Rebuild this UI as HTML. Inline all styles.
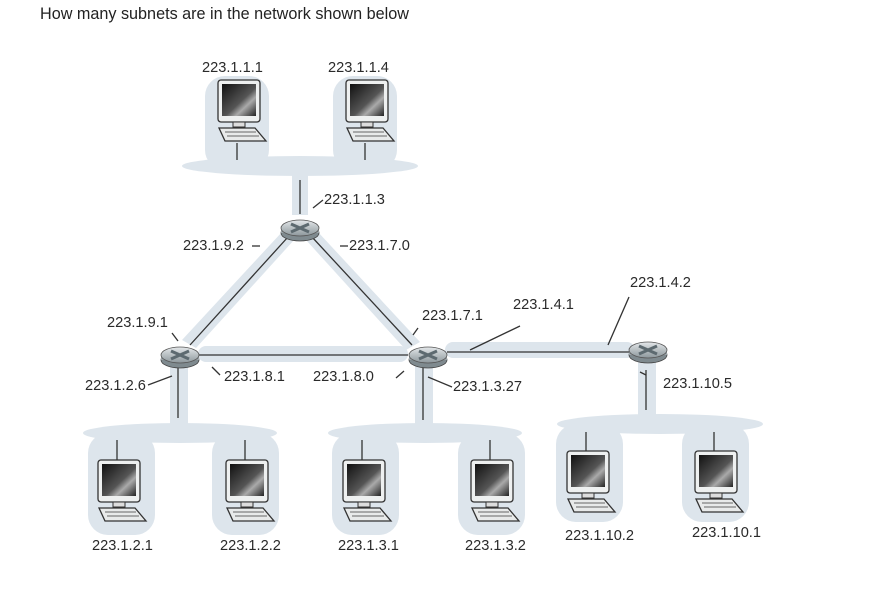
<!DOCTYPE html>
<html><head><style>
body{margin:0;background:#fff;width:887px;height:596px;overflow:hidden}
svg{position:absolute;left:0;top:0}
text{font-family:"Liberation Sans",sans-serif;font-size:14.6px;fill:#2a2a2a}
</style></head><body>
<svg width="887" height="596" viewBox="0 0 887 596">
<defs>
<linearGradient id="scr" x1="0" y1="0" x2="1" y2="1">
<stop offset="0" stop-color="#111"/><stop offset="0.55" stop-color="#555"/><stop offset="0.7" stop-color="#aaa"/><stop offset="1" stop-color="#222"/></linearGradient>
<linearGradient id="rt" x1="0" y1="0" x2="0" y2="1"><stop offset="0" stop-color="#e4e8ea"/><stop offset="1" stop-color="#8d979c"/></linearGradient>
<g id="pc">
<rect x="-21" y="0" width="42" height="42" rx="3" fill="#eef0f0" stroke="#333" stroke-width="1.3"/>
<rect x="-17" y="4" width="34" height="32" fill="url(#scr)"/>
<rect x="-6" y="42" width="12" height="5" fill="#ddd" stroke="#333"/>
<path d="M-20 48 L16 48 L27 61 L-14 61 Z" fill="#e8eaea" stroke="#333" stroke-width="1.3"/>
<path d="M-14 52 L17 52 M-12 56 L20 56" stroke="#666"/>
</g>
<g id="router">
<ellipse cx="0" cy="5" rx="19" ry="8" fill="#7f8a8f" stroke="#444" stroke-width="0.8"/>
<rect x="-19" y="0" width="38" height="5" fill="#9aa3a8"/>
<ellipse cx="0" cy="0" rx="19" ry="8" fill="url(#rt)" stroke="#555" stroke-width="0.8"/>
<path d="M-9 -4 L9 4 M-9 4 L9 -4" stroke="#5d6a70" stroke-width="3"/>
</g>
</defs>
<g fill="#dde5ec" stroke="none">
<ellipse cx="300" cy="166" rx="118" ry="10"/>
<rect x="205" y="76" width="64" height="94" rx="20"/>
<rect x="333" y="76" width="64" height="94" rx="20"/>
<rect x="292" y="170" width="16" height="45"/>
<path d="M282 232 L294 240 L196 348 L182 340 Z"/>
<path d="M306 240 L318 232 L420 342 L406 350 Z"/>
<rect x="198" y="346" width="210" height="16" rx="8"/>
<rect x="445" y="342" width="190" height="16" rx="8"/>
<ellipse cx="180" cy="433" rx="97" ry="10"/>
<rect x="170" y="365" width="18" height="70"/>
<rect x="88" y="433" width="67" height="102" rx="20"/>
<rect x="212" y="433" width="67" height="102" rx="20"/>
<ellipse cx="425" cy="433" rx="97" ry="10"/>
<rect x="415" y="365" width="18" height="70"/>
<rect x="332" y="433" width="67" height="102" rx="20"/>
<rect x="458" y="433" width="67" height="102" rx="20"/>
<ellipse cx="660" cy="424" rx="103" ry="10"/>
<rect x="638" y="360" width="18" height="65"/>
<rect x="556" y="424" width="67" height="98" rx="20"/>
<rect x="682" y="424" width="67" height="98" rx="20"/>
</g>
<g stroke="#333" stroke-width="1.3" fill="none">
<line x1="237" y1="143" x2="237" y2="160"/>
<line x1="365" y1="143" x2="365" y2="160"/>
<line x1="300" y1="180" x2="300" y2="214"/>
<line x1="288" y1="237" x2="190" y2="345"/>
<line x1="312" y1="237" x2="412" y2="345"/>
<line x1="199" y1="355" x2="408" y2="355"/>
<line x1="447" y1="352" x2="630" y2="352"/>
<line x1="178" y1="365" x2="178" y2="418"/>
<line x1="423" y1="365" x2="423" y2="420"/>
<line x1="646" y1="370" x2="646" y2="410"/>
<line x1="117" y1="440" x2="117" y2="460"/>
<line x1="245" y1="440" x2="245" y2="460"/>
<line x1="362" y1="440" x2="362" y2="460"/>
<line x1="490" y1="440" x2="490" y2="460"/>
<line x1="586" y1="432" x2="586" y2="452"/>
<line x1="714" y1="432" x2="714" y2="452"/>
<line x1="313" y1="208" x2="323" y2="200"/>
<line x1="252" y1="246" x2="260" y2="246"/>
<line x1="340" y1="246" x2="348" y2="246"/>
<line x1="172" y1="333" x2="178" y2="341"/>
<line x1="148" y1="385" x2="172" y2="376"/>
<line x1="212" y1="367" x2="220" y2="375"/>
<line x1="396" y1="378" x2="404" y2="371"/>
<line x1="418" y1="328" x2="413" y2="335"/>
<line x1="470" y1="350" x2="520" y2="326"/>
<line x1="608" y1="345" x2="629" y2="297"/>
<line x1="428" y1="377" x2="452" y2="387"/>
<line x1="640" y1="372" x2="646" y2="375"/>
</g>
<use href="#router" x="300" y="228"/>
<use href="#router" x="180" y="355"/>
<use href="#router" x="428" y="355"/>
<use href="#router" x="648" y="350"/>
<use href="#pc" x="239" y="80"/>
<use href="#pc" x="367" y="80"/>
<use href="#pc" x="119" y="460"/>
<use href="#pc" x="247" y="460"/>
<use href="#pc" x="364" y="460"/>
<use href="#pc" x="492" y="460"/>
<use href="#pc" x="588" y="451"/>
<use href="#pc" x="716" y="451"/>
<text x="40" y="19" style="font-size:16.2px;fill:#222">How many subnets are in the network shown below</text>
<text x="202" y="72">223.1.1.1</text>
<text x="328" y="72">223.1.1.4</text>
<text x="324" y="204">223.1.1.3</text>
<text x="183" y="250">223.1.9.2</text>
<text x="349" y="250">223.1.7.0</text>
<text x="630" y="287">223.1.4.2</text>
<text x="513" y="309">223.1.4.1</text>
<text x="422" y="320">223.1.7.1</text>
<text x="107" y="327">223.1.9.1</text>
<text x="85" y="390">223.1.2.6</text>
<text x="224" y="381">223.1.8.1</text>
<text x="313" y="381">223.1.8.0</text>
<text x="453" y="391">223.1.3.27</text>
<text x="663" y="388">223.1.10.5</text>
<text x="92" y="550">223.1.2.1</text>
<text x="220" y="550">223.1.2.2</text>
<text x="338" y="550">223.1.3.1</text>
<text x="465" y="550">223.1.3.2</text>
<text x="565" y="540">223.1.10.2</text>
<text x="692" y="537">223.1.10.1</text>
</svg>
</body></html>
